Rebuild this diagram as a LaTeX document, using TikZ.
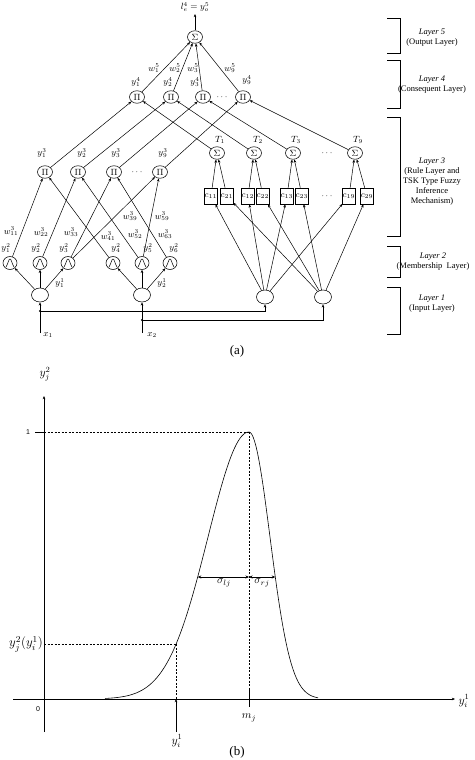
\documentclass[tikz,border=0pt]{standalone}
\usepackage{fix-cm}
\usepackage{fontspec}
\setmainfont{Liberation Serif}
\newfontfamily\lsans{Liberation Sans}
\usetikzlibrary{arrows.meta,calc,shapes.geometric}
\begin{document}
\begin{tikzpicture}[x=1pt,y=-1pt,
  tipa/.style={-{Stealth[length=3.2pt,width=2.6pt]}},
  conn/.style={draw,line width=0.5pt,tipa},
  circ/.style={draw,ellipse,minimum width=15pt,minimum height=12.5pt,inner sep=0pt,line width=0.55pt,font=\fontsize{9}{9}\selectfont},
  memb/.style={draw,ellipse,minimum width=14pt,minimum height=13pt,inner sep=0pt,line width=0.55pt},
  inp/.style={draw,ellipse,minimum width=17pt,minimum height=14pt,inner sep=0pt,line width=0.55pt},
  cbox/.style={draw,rectangle,minimum width=12pt,minimum height=16pt,inner sep=0pt,line width=0.55pt,font=\fontsize{8.5}{8.5}\selectfont},
  lab/.style={inner sep=0pt,font=\fontsize{9}{9}\selectfont},
  glab/.style={inner sep=0pt,font=\fontsize{12}{12}\selectfont},
  layertxt/.style={inner sep=0pt,align=center,font=\fontsize{8.5}{10}\selectfont},
  brk/.style={draw,line width=0.5pt},
  dsh/.style={draw,line width=0.5pt,dash pattern=on 2pt off 1.5pt}]
\useasboundingbox (0,0) rectangle (474,760);

% ---------- Layer 5
\node[circ] (s5) at (195,37) {$\Sigma$};
\coordinate (out) at (195,14);
\draw[conn] (s5) -- (out);
\node[lab] at (195,7) {$l_e^4=y_o^5$};

% ---------- Layer 4
\node[circ] (p41) at (137,97) {$\Pi$};
\node[circ] (p42) at (171,97) {$\Pi$};
\node[circ] (p43) at (203,97) {$\Pi$};
\node[circ] (p49) at (243,97) {$\Pi$};
\node[lab] (d4) at (222,97) {$\cdots$};
\foreach \n in {p41,p42,p43,p49} \draw[conn] (\n) -- (s5);
\node[lab] at (154,68) {$w_1^5$};
\node[lab] at (175,68) {$w_2^5$};
\node[lab] at (193,68) {$w_3^5$};
\node[lab] at (230,68) {$w_9^5$};
\node[lab] at (136,82) {$y_1^4$};
\node[lab] at (168,82) {$y_2^4$};
\node[lab] at (195,82) {$y_3^4$};
\node[lab] at (247,80) {$y_9^4$};

% ---------- Layer 3 (rules)
\node[circ] (p31) at (45,172) {$\Pi$};
\node[circ] (p32) at (78,172) {$\Pi$};
\node[circ] (p33) at (114,172) {$\Pi$};
\node[circ] (p39) at (160,172) {$\Pi$};
\node[lab] (d3) at (137,172) {$\cdots$};
\node[lab] at (42,153) {$y_1^3$};
\node[lab] at (82,153) {$y_2^3$};
\node[lab] at (116,153) {$y_3^3$};
\node[lab] at (163,153) {$y_9^3$};

% ---------- Layer 3 (TSK)
\node[circ] (t1) at (217,153) {$\Sigma$};
\node[circ] (t2) at (254,153) {$\Sigma$};
\node[circ] (t3) at (293,153) {$\Sigma$};
\node[circ] (t9) at (355,153) {$\Sigma$};
\node[lab] (dt) at (327,153) {$\cdots$};
\node[lab] at (220,140) {$T_1$};
\node[lab] at (258,140) {$T_2$};
\node[lab] at (296,140) {$T_3$};
\node[lab] at (358,140) {$T_9$};

\node[cbox] (c11) at (211,196) {$c_{11}$};
\node[cbox] (c21) at (227,196) {$c_{21}$};
\node[cbox] (c12) at (248,196) {$c_{12}$};
\node[cbox] (c22) at (263,196) {$c_{22}$};
\node[cbox] (c13) at (287,196) {$c_{13}$};
\node[cbox] (c23) at (302,196) {$c_{23}$};
\node[cbox] (c19) at (349,196) {$c_{19}$};
\node[cbox] (c29) at (367,196) {$c_{29}$};
\node[lab] (dc) at (327,196) {$\cdots$};

\draw[conn] (c11) -- (t1); \draw[conn] (c21) -- (t1);
\draw[conn] (c12) -- (t2); \draw[conn] (c22) -- (t2);
\draw[conn] (c13) -- (t3); \draw[conn] (c23) -- (t3);
\draw[conn] (c19) -- (t9); \draw[conn] (c29) -- (t9);

% layer 3 -> layer 4
\draw[conn] (p31) -- (p41); \draw[conn] (t1) -- (p41);
\draw[conn] (p32) -- (p42); \draw[conn] (t2) -- (p42);
\draw[conn] (p33) -- (p43); \draw[conn] (t3) -- (p43);
\draw[conn] (p39) -- (p49); \draw[conn] (t9) -- (p49);

% ---------- Layer 2
\node[memb] (m1) at (10,263) {};
\node[memb] (m2) at (40,263) {};
\node[memb] (m3) at (68,263) {};
\node[memb] (m4) at (113,263) {};
\node[memb] (m5) at (142,263) {};
\node[memb] (m6) at (170,263) {};
\foreach \m in {m1,m2,m3,m4,m5,m6}
  \draw[line width=0.5pt,shift={(\m.center)}] (-4,4) .. controls (-1.6,0) and (-1.4,-4) .. (0,-4) .. controls (1.4,-4) and (1.6,0) .. (4,4);
\node[lab] at (6,248) {$y_1^2$};
\node[lab] at (36,248) {$y_2^2$};
\node[lab] at (64,248) {$y_3^2$};
\node[lab] at (116,248) {$y_4^2$};
\node[lab] at (148,248) {$y_5^2$};
\node[lab] at (174,248) {$y_6^2$};

\draw[conn] (m1) -- (p31); \draw[conn] (m4) -- (p31);
\draw[conn] (m2) -- (p32); \draw[conn] (m5) -- (p32);
\draw[conn] (m3) -- (p33); \draw[conn] (m6) -- (p33);
\draw[conn] (m3) -- (p39); \draw[conn] (m5) -- (p39);
\node[lab] at (11,231) {$w_{11}^3$};
\node[lab] at (41,232) {$w_{22}^3$};
\node[lab] at (71,232) {$w_{33}^3$};
\node[lab] at (108,236) {$w_{41}^3$};
\node[lab] at (135,234) {$w_{52}^3$};
\node[lab] at (165,234) {$w_{63}^3$};
\node[lab] at (130,216) {$w_{39}^3$};
\node[lab] at (162,216) {$w_{59}^3$};

% ---------- Layer 1
\node[inp] (i1) at (40,295) {};
\node[inp] (i2) at (142,295) {};
\node[inp] (i3) at (265,297) {};
\node[inp] (i4) at (323,297) {};
\draw[conn] (i1) -- (m1); \draw[conn] (i1) -- (m2); \draw[conn] (i1) -- (m3);
\draw[conn] (i2) -- (m4); \draw[conn] (i2) -- (m5); \draw[conn] (i2) -- (m6);
\foreach \c in {c11,c12,c13,c19} \draw[conn] (i3) -- (\c);
\foreach \c in {c21,c22,c23,c29} \draw[conn] (i4) -- (\c);
\node[lab] at (60,283) {$y_1^1$};
\node[lab] at (162,283) {$y_2^1$};

\coordinate (x1in) at (40,333);
\coordinate (x2in) at (142,333);
\coordinate (j1) at (40,311);
\coordinate (j2) at (142,320);
\draw[conn] (x1in) -- (i1);
\draw[conn] (x2in) -- (i2);
\draw[conn] (j1) -| (i3);
\draw[conn] (j2) -| (i4);
\fill (j1) circle (1.1pt);
\fill (j2) circle (1.1pt);
\node[lab] at (48,335) {$x_1$};
\node[lab] at (152,335) {$x_2$};

% ---------- layer brackets
\draw[brk] (387,18) -- (400,18) -- (400,53) -- (387,53);
\draw[brk] (387,60) -- (400,60) -- (400,108) -- (387,108);
\draw[brk] (387,117) -- (400,117) -- (400,236) -- (387,236);
\draw[brk] (387,246) -- (400,246) -- (400,277) -- (387,277);
\draw[brk] (387,287) -- (400,287) -- (400,334) -- (387,334);
\node[layertxt] at (432,37.5) {\textit{Layer 5}\\(Output Layer)};
\node[layertxt] at (432,84.5) {\textit{Layer 4}\\(Consequent Layer)};
\node[layertxt] at (432,182) {\textit{Layer 3}\\(Rule Layer and\\TSK Type Fuzzy\\Inference\\Mechanism)};
\node[layertxt] at (433,262) {\textit{Layer 2}\\(Membership\ \ Layer)};
\node[layertxt] at (432,303.5) {\textit{Layer 1}\\(Input Layer)};

\node[inner sep=0pt,font=\fontsize{13}{13}\selectfont] (capa) at (237,351) {(a)};

% ---------- Graph (b)
\coordinate (ya0) at (44,732);
\coordinate (ya1) at (44,396);
\coordinate (xa0) at (13,699);
\coordinate (xa1) at (455,699);
\draw[conn] (ya0) -- (ya1);
\draw[conn] (xa0) -- (xa1);
\node[glab] at (45,374) {$y_j^2$};
\node[glab] at (464,701) {$y_i^1$};
\node[inner sep=0pt,font=\lsans\fontsize{7}{7}\selectfont] at (28,432) {1};
\node[inner sep=0pt,font=\lsans\fontsize{7}{7}\selectfont] at (38,709) {0};
\draw[line width=0.5pt] (35,432) -- (44,432);
\coordinate (peak) at (249,432);
\draw[dsh] (44,432) -- (peak);
\draw[dsh] (peak) -- (249,689);
\draw[line width=0.5pt] (249,689) -- (249,707);
\node[inner sep=0pt,font=\fontsize{11}{11}\selectfont] at (249,718) {$m_j$};

\draw[line width=0.6pt] plot[domain=105:249,samples=80] (\x,{699-267*exp(-0.5*((\x-249)/41)^2)});
\draw[line width=0.6pt] plot[domain=249:318,samples=50] (\x,{699-267*exp(-0.5*((\x-249)/21)^2)});

\coordinate (pt) at (176,644.3);
\draw[dsh] (44,644.3) -- (pt);
\draw[dsh] (pt) -- (176,699);
\coordinate (yi0) at (176,732);
\coordinate (yi1) at (176,699);
\draw[conn] (yi0) -- (yi1);
\node[glab] at (177,741) {$y_i^1$};
\node[inner sep=0pt,anchor=east,font=\fontsize{13}{13}\selectfont] at (43,644) {$y_j^2(y_i^1)$};

\coordinate (sl) at (197.7,577);
\coordinate (sm) at (249,577);
\coordinate (sr) at (275.3,577);
\draw[line width=0.6pt,{Stealth[length=3.5pt,width=3pt]}-{Stealth[length=3.5pt,width=3pt]}] (sl) -- (sm);
\draw[line width=0.6pt,{Stealth[length=3.5pt,width=3pt]}-{Stealth[length=3.5pt,width=3pt]}] (sm) -- (sr);
\node[inner sep=0pt,font=\fontsize{11}{11}\selectfont] at (224,583) {$\sigma_{lj}$};
\node[inner sep=0pt,font=\fontsize{11}{11}\selectfont] at (262,583) {$\sigma_{rj}$};

\node[inner sep=0pt,font=\fontsize{13}{13}\selectfont] (capb) at (237,752) {(b)};
\end{tikzpicture}
\end{document}
